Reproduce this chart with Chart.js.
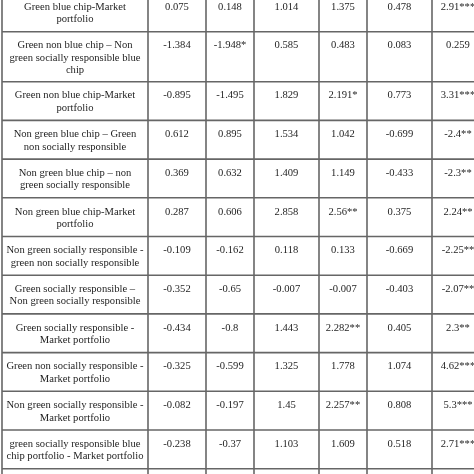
<!DOCTYPE html>
<html><head><meta charset="utf-8">
<script src="https://cdn.jsdelivr.net/npm/chart.js@4/dist/chart.umd.min.js"></script>
<style>html,body{margin:0;padding:0;background:#fff;}canvas{display:block;}</style>
</head><body>
<canvas id="c" width="474" height="474"></canvas>
<script>
const rowLabels = [
 ["Green blue chip-Market","portfolio"],
 ["Green non blue chip \u2013 Non","green socially responsible blue","chip"],
 ["Green non blue chip-Market","portfolio"],
 ["Non green blue chip \u2013 Green","non socially responsible"],
 ["Non green blue chip \u2013 non","green socially responsible"],
 ["Non green blue chip-Market","portfolio"],
 ["Non green socially responsible -","green non socially responsible"],
 ["Green socially responsible \u2013","Non green socially responsible"],
 ["Green socially responsible -","Market portfolio"],
 ["Green non socially responsible -","Market portfolio"],
 ["Non green socially responsible -","Market portfolio"],
 ["green socially responsible blue","chip portfolio - Market portfolio"]
];
const col1 = ["0.075","-1.384","-0.895","0.612","0.369","0.287","-0.109","-0.352","-0.434","-0.325","-0.082","-0.238"];
const col2 = ["0.148","-1.948*","-1.495","0.895","0.632","0.606","-0.162","-0.65","-0.8","-0.599","-0.197","-0.37"];
const col3 = ["1.014","0.585","1.829","1.534","1.409","2.858","0.118","-0.007","1.443","1.325","1.45","1.103"];
const col4 = ["1.375","0.483","2.191*","1.042","1.149","2.56**","0.133","-0.007","2.282**","1.778","2.257**","1.609"];
const col5 = ["0.478","0.083","0.773","-0.699","-0.433","0.375","-0.669","-0.403","0.405","1.074","0.808","0.518"];
const col6 = ["2.91***","0.259","3.31***","-2.4**","-2.3**","2.24**","-2.25**","-2.07**","2.3**","4.62***","5.3***","2.71***"];
const columns = [col1,col2,col3,col4,col5,col6];

// layout (pixels)
const colEdges = [2,148,206,254,319,367,432,520];
const firstTop = -7, lineH = 12.5, rowPad = 14;
const rowTops = [];
{ let t = firstTop; rowLabels.forEach(l => { rowTops.push(t); t += (l.length===3?50:38.7); }); rowTops.push(t); }

const labelCenter = (colEdges[0]+colEdges[1])/2;
const datasets = [];
datasets.push({ data: rowLabels.map((l,i)=>({x:labelCenter,y:rowTops[i]+rowPad, t:l})), pointRadius:0 });
columns.forEach((col,ci)=>{
  const cx = ci===5 ? 458 : (colEdges[ci+1]+colEdges[ci+2])/2;
  datasets.push({ data: col.map((v,i)=>({x:cx,y:rowTops[i]+rowPad,t:[v]})), pointRadius:0 });
});

const tablePlugin = {
  id:'table',
  beforeDatasetsDraw(chart){
    const ctx=chart.ctx, xs=chart.scales.x, ys=chart.scales.y;
    ctx.save(); ctx.strokeStyle='#666'; ctx.lineWidth=1.6;
    const top=ys.getPixelForValue(rowTops[0]), bot=ys.getPixelForValue(480);
    colEdges.forEach(e=>{const x=xs.getPixelForValue(e);ctx.beginPath();ctx.moveTo(x,top);ctx.lineTo(x,bot);ctx.stroke();});
    rowTops.forEach(t=>{const y=ys.getPixelForValue(t);ctx.beginPath();ctx.moveTo(xs.getPixelForValue(colEdges[0]),y);ctx.lineTo(xs.getPixelForValue(520),y);ctx.stroke();});
    ctx.restore();
  },
  afterDatasetsDraw(chart){
    const ctx=chart.ctx; ctx.save();
    ctx.fillStyle='#1e1e1e'; ctx.font='10.6px "Liberation Serif", "DejaVu Serif", serif';
    ctx.textAlign='center'; ctx.textBaseline='middle';
    chart.data.datasets.forEach((ds,di)=>{
      const meta=chart.getDatasetMeta(di);
      meta.data.forEach((pt,i)=>{
        ds.data[i].t.forEach((s,k)=>ctx.fillText(s,pt.x,pt.y+k*lineH));
      });
    });
    ctx.restore();
  }
};

new Chart(document.getElementById('c'),{
  type:'scatter',
  data:{datasets},
  options:{
    responsive:false, animation:false,
    layout:{padding:0},
    plugins:{legend:{display:false},tooltip:{enabled:false}},
    scales:{
      x:{type:'linear',min:0,max:474,display:false},
      y:{type:'linear',min:0,max:474,reverse:true,display:false}
    }
  },
  plugins:[tablePlugin]
});
</script>
</body></html>
